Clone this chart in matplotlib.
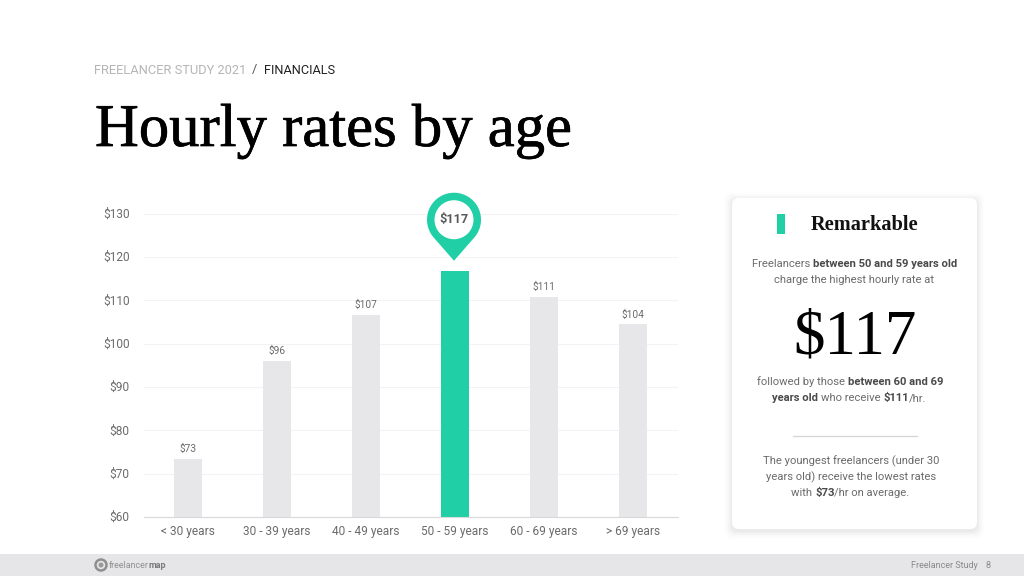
import matplotlib
matplotlib.use("Agg")
import matplotlib.pyplot as plt
import matplotlib.patheffects as pe
from matplotlib.patches import FancyBboxPatch, Rectangle, Circle, PathPatch
from matplotlib.path import Path
from matplotlib.transforms import ScaledTranslation
import numpy as np

categories = ["< 30 years", "30 - 39 years", "40 - 49 years", "50 - 59 years", "60 - 69 years", "> 69 years"]
values = [73.4, 96.0, 106.6, 116.8, 110.8, 104.4]
value_labels = ["$73", "$96", "$107", "$117", "$111", "$104"]
y_ticks = [60, 70, 80, 90, 100, 110, 120, 130]
highlight = "50 - 59 years"

GREEN = "#20cfa5"
BAR = "#e7e7e9"
TXT = "#6b6b6b"
DARK = "#4a4a4a"
plt.rcParams["font.family"] = "Roboto"

fig = plt.figure(figsize=(10.24, 5.76), dpi=100, facecolor="white")
W, H = 1024, 576

# Chart
ax = fig.add_axes([143.5 / W, 1 - 517 / H, 534 / W, 303.5 / H])
x = np.arange(len(categories))
ax.bar(x, values, width=0.315, color=[GREEN if c == highlight else BAR for c in categories], zorder=2)
ax.set_xlim(-0.5, 5.5)
ax.set_ylim(60, 130)
ax.set_xticks(x, categories)
ax.set_yticks(y_ticks, [f"${t}" for t in y_ticks])
ax.tick_params(axis="both", length=0, labelsize=8.6, labelcolor=TXT)
ax.tick_params(axis="x", pad=5.5)
ax.tick_params(axis="y", pad=10)
shift = ScaledTranslation(0, 0.5 / 72, fig.dpi_scale_trans)
for lab in ax.get_yticklabels():
    lab.set_transform(lab.get_transform() + shift)
ax.grid(axis="y", color="#f3f3f3", lw=0.8, zorder=0)
ax.set_axisbelow(True)
for s in ["top", "left", "right"]:
    ax.spines[s].set_visible(False)
ax.spines["bottom"].set_color("#d9d9d9")
ax.spines["bottom"].set_linewidth(0.8)
for xi, v, lab, c in zip(x, values, value_labels, categories):
    if c != highlight:
        ax.annotate(lab, (xi, v), xytext=(0, 3.6), textcoords="offset points", ha="center", va="bottom",
                    fontsize=7.3, color=TXT)

# Overlay in pixel coordinates
ov = fig.add_axes([0, 0, 1, 1], facecolor="none")
ov.set_xlim(0, W)
ov.set_ylim(H, 0)
ov.axis("off")

# Pin above the highlighted bar
i = categories.index(highlight)
px, py = ax.transData.transform((x[i], values[i]))
cx, tip = px * W / fig.bbox.width - 1, H - py * H / fig.bbox.height - 10
cy, R = tip - 41, 27
a = np.deg2rad(np.linspace(-222, 42, 60))
verts = [(cx + R * np.cos(t), cy + R * np.sin(t)) for t in a] + [(cx, tip)]
ov.add_patch(PathPatch(Path(verts + [verts[0]], closed=True), fc=GREEN, ec="none", zorder=5))
ov.add_patch(Circle((cx, cy), 19.5, fc="white", ec="none", zorder=6))
ov.text(cx, cy, value_labels[i], ha="center", va="center", fontsize=9.2, weight="bold", color="#5a5a5a", zorder=7)

# Header
r = fig.canvas.get_renderer()
def rich(xc, y, parts, size=8.1, color=TXT, bold_color=DARK, align="center"):
    widths = []
    for s, b in parts:
        t = ov.text(0, 0, s.replace(" ", "\u00a0"), fontsize=size, weight="bold" if b else "normal")
        widths.append(t.get_window_extent(r).width * W / fig.bbox.width)
        t.remove()
    xp = xc - sum(widths) / 2 if align == "center" else xc
    for (s, b), w in zip(parts, widths):
        ov.text(xp, y, s.replace(" ", "\u00a0"), fontsize=size, weight="bold" if b else "normal",
                color=bold_color if b else color, va="center", ha="left", zorder=8)
        xp += w

rich(94, 70, [("FREELANCER STUDY 2021", False)], size=9.3, color="#b5b5b5", align="left")
ov.text(252, 70, "/", fontsize=9.3, color="#555555", va="center")
ov.text(264, 70, "FINANCIALS", fontsize=9.2, color="#222222", va="center")
title = ov.text(95, 131, "Hourly rates by age", family="Liberation Serif", fontsize=43.7, color="black",
                va="center", ha="left")
title.set_path_effects([pe.withStroke(linewidth=0.5, foreground="black")])

# Card with soft shadow
for k, al in zip(range(8, 0, -1), [0.004, 0.005, 0.006, 0.008, 0.01, 0.012, 0.014, 0.016]):
    ov.add_patch(FancyBboxPatch((732 - k, 198 - k + 2), 245 + 2 * k, 331 + 2 * k,
                                boxstyle="round,pad=0,rounding_size=7", fc="black", ec="none", alpha=al, zorder=1))
ov.add_patch(FancyBboxPatch((732, 198), 245, 331, boxstyle="round,pad=0,rounding_size=7", fc="white", ec="none", zorder=2))
ov.add_patch(Rectangle((777, 214), 8, 20, fc=GREEN, ec="none", zorder=3))
ov.text(865, 225, "Remarkable", family="Liberation Serif", weight="bold", fontsize=14.7, color="#111111",
        ha="center", va="center", zorder=3)
rich(854.5, 264, [("Freelancers ", False), ("between 50 and 59 years old", True)])
rich(853.5, 280, [("charge the highest hourly rate at", False)])
ov.text(854.5, 338, value_labels[i], family="Liberation Serif", fontsize=45.4, color="black",
        ha="center", va="center", zorder=3)
rich(850.5, 382, [("followed by those ", False), ("between 60 and 69", True)])
rich(849.5, 398, [("years old ", True), ("who receive ", False), ("$111", True), ("/hr.", False)])
ov.plot([793, 917], [435.5, 435.5], color="#d5d5d5", lw=0.9, zorder=3)
rich(851, 461, [("The youngest freelancers (under 30", False)])
rich(851, 477, [("years old) receive the lowest rates", False)])
rich(850.5, 493, [("with ", False), ("$73", True), ("/hr on average.", False)])

# Footer
ov.add_patch(Rectangle((0, 554), W, 22, fc="#e6e6e8", ec="none", zorder=1))
ov.add_patch(Circle((101, 565), 5.5, fc="none", ec="#8f8f8f", lw=1.8, zorder=3))
ov.add_patch(Circle((101, 565), 2.5, fc="#9a9a9a", ec="none", zorder=3))
rich(109, 566, [("freelancer", False), ("map", True)], size=6.4, color="#8f8f8f", bold_color="#7a7a7a", align="left")
ov.text(978, 565, "Freelancer Study", fontsize=6.5, color="#8a8a8a", ha="right", va="center", zorder=3)
ov.text(990, 565, "8", fontsize=6.5, color="#8a8a8a", ha="right", va="center", zorder=3)

fig.savefig("out.png", dpi=100, facecolor="white")
